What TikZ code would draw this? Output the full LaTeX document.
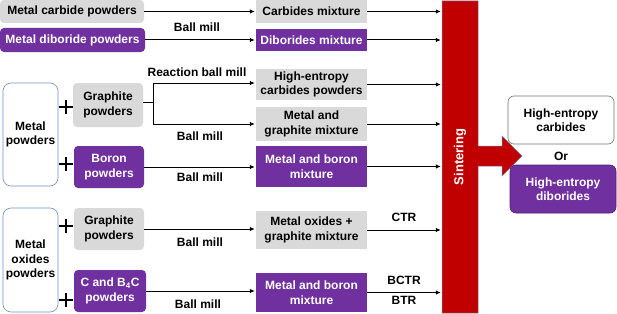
\documentclass[tikz,border=0pt]{standalone}
\usepackage{fontspec}
\setmainfont{Liberation Sans}
\usetikzlibrary{arrows.meta}
\definecolor{purp}{HTML}{7030A0}
\definecolor{lgray}{HTML}{D9D9D9}
\definecolor{sred}{HTML}{C00000}
\definecolor{sedge}{HTML}{7A7A9E}
\definecolor{bline}{HTML}{6F8FC8}
\begin{document}
\begin{tikzpicture}[x=1pt,y=-1pt,
  base/.style={font=\fontsize{12}{14.5}\selectfont\bfseries, align=center, inner sep=0pt},
  gin/.style={base, fill=lgray, rounded corners=4pt},
  pin/.style={base, fill=purp, text=white, rounded corners=4pt},
  gmix/.style={base, fill=lgray},
  pmix/.style={base, fill=purp, text=white},
  srcbox/.style={base, draw=bline, line width=0.6pt, rounded corners=8pt, fill=white},
  lbl/.style={font=\fontsize{12}{14}\selectfont\bfseries, inner sep=0pt},
  arr/.style={-{Latex[length=5pt,width=4.5pt]}, line width=1pt, shorten >=1pt},
  conn/.style={line width=1pt},
  plusmark/.style={line width=1.1pt}]
\useasboundingbox (0,0) rectangle (617,313);

% inputs
\node[gin, minimum width=144pt, minimum height=23pt] (carb) at (72,11.5) {Metal carbide powders};
\node[pin, minimum width=145pt, minimum height=24pt] (dib) at (72.5,40) {Metal diboride powders};

\node[srcbox, minimum width=55pt, minimum height=103pt] (mp) at (30.5,134.5) {Metal\\powders};
\node[gin, minimum width=70pt, minimum height=44pt] (gp1) at (108,105) {Graphite\\powders};
\node[pin, minimum width=70pt, minimum height=42pt] (bp) at (109,167) {Boron\\powders};

\node[srcbox, minimum width=55pt, minimum height=104pt] (mop) at (30.5,260) {Metal\\oxides\\powders};
\node[gin, minimum width=70pt, minimum height=42pt] (gp2) at (109,229) {Graphite\\powders};
\node[pin, minimum width=72pt, minimum height=42pt] (cb) at (110,291) {C and B\textsubscript{4}C\\powders};

% plus signs
\draw[plusmark] (59,107) -- (73,107) (66,100) -- (66,114);
\draw[plusmark] (59,164) -- (73,164) (66,157) -- (66,171);
\draw[plusmark] (59,226) -- (73,226) (66,219) -- (66,233);
\draw[plusmark] (59,300) -- (73,300) (66,293) -- (66,307);

% mixtures
\node[gmix, minimum width=111pt, minimum height=23pt] (cmix) at (311.5,11.5) {Carbides mixture};
\node[pmix, minimum width=111pt, minimum height=22pt] (dmix) at (311.5,40) {Diborides mixture};
\node[gmix, minimum width=111pt, minimum height=31pt] (hecp) at (311.5,84.5) {High-entropy\\carbides powders};
\node[gmix, minimum width=111pt, minimum height=34pt] (mgm) at (311.5,124) {Metal and\\graphite mixture};
\node[pmix, minimum width=111pt, minimum height=41pt] (mbm1) at (311.5,166.5) {Metal and boron\\mixture};
\node[gmix, minimum width=111pt, minimum height=38pt] (mogm) at (311.5,230) {Metal oxides +\\graphite mixture};
\node[pmix, minimum width=111pt, minimum height=39pt] (mbm2) at (311.5,292.5) {Metal and boron\\mixture};

% sintering bar
\node[minimum width=36pt, minimum height=312pt, inner sep=0pt] (sint) at (460,157) {};
\filldraw[fill=sred, draw=sedge, line width=0.5pt]
  (442,1) -- (478,1) -- (478,146) -- (502,146) -- (502,136) -- (522,156)
  -- (502,176) -- (502,166) -- (478,166) -- (478,313) -- (442,313) -- cycle;
\node[rotate=90, text=white, font=\fontsize{13}{13}\selectfont\bfseries, inner sep=0pt] (sintlbl) at (460,157) {Sintering};

% outputs
\node[base, draw=gray!90!black, fill=white, line width=0.6pt, rounded corners=6pt, minimum width=106pt, minimum height=48pt] (hec) at (561,120) {High-entropy\\carbides};
\node[lbl] (or) at (561,156) {Or};
\node[pin, draw=purp!70!black, line width=0.6pt, rounded corners=6pt, minimum width=106pt, minimum height=48pt] (hed) at (563,189) {High-entropy\\diborides};

% connectors
\draw[arr] (carb.east) -- (cmix.west);
\draw[arr] (dib.east) -- (dmix.west);
\coordinate (br) at (153,102);
\draw[conn] (gp1.east |- br) -- (br);
\draw[arr] (br) |- ([yshift=1.5pt]hecp.west);
\draw[arr] (br) |- (mgm.west);
\draw[arr] (bp.east) -- (bp.east -| mbm1.west);
\draw[arr] (gp2.east) -- (gp2.east -| mogm.west);
\draw[arr] (cb.east) -- (cb.east -| mbm2.west);

\foreach \n in {cmix,dmix,hecp,mgm,mbm1,mogm,mbm2}
  \draw[arr] (\n.east) -- (\n.east -| sint.west);

% labels
\node[lbl] (l1) at (197,27) {Ball mill};
\node[lbl] (l2) at (197,72) {Reaction ball mill};
\node[lbl] (l3) at (200,136) {Ball mill};
\node[lbl] (l4) at (200,177) {Ball mill};
\node[lbl] (l5) at (200,242) {Ball mill};
\node[lbl] (l6) at (198,304) {Ball mill};
\node[lbl] (l7) at (404,217) {CTR};
\node[lbl] (l8) at (404,280) {BCTR};
\node[lbl] (l9) at (404,300) {BTR};
\end{tikzpicture}
\end{document}
